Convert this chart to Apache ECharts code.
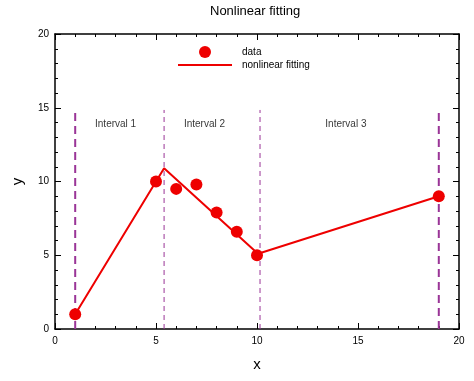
<!DOCTYPE html>
<html><head><meta charset="utf-8">
<script src="https://cdn.jsdelivr.net/npm/echarts@6/dist/echarts.min.js"></script>
<style>html,body{margin:0;padding:0;background:#fff}#c{width:474px;height:381px}</style>
</head><body><div id="c"></div>
<script>
const dataX = [1, 5, 6, 7, 8, 9, 10, 19];
const dataY = [1, 10, 9.5, 9.8, 7.9, 6.6, 5, 9];
const fitX = [1, 5.4, 10.05, 19];
const fitY = [1, 10.9, 5.1, 9];
const boundX = [1, 5.4, 10.15, 19];
const boundTop = 14.85;
const intervalNames = ['Interval 1', 'Interval 2', 'Interval 3'];
const intervalX = [3.0, 7.4, 14.4];
const intervalY = 13.9;
const xTicks = [0, 5, 10, 15, 20];
const yTicks = [0, 5, 10, 15, 20];

const FONT = 'Liberation Sans, Arial, Helvetica, sans-serif';
const RED = '#ee0000';
const PURPLE = '#9a3597';

const series = [];
series.push({
  name: 'nonlinear fitting', type: 'line', symbol: 'none', z: 3,
  data: fitX.map((x, i) => [x, fitY[i]]),
  lineStyle: { color: RED, width: 2 }, itemStyle: { color: RED }
});
series.push({
  name: 'data', type: 'scatter', symbol: 'circle', symbolSize: 12, z: 4,
  data: dataX.map((x, i) => [x, dataY[i]]),
  itemStyle: { color: RED, opacity: 1 }
});
boundX.forEach((x, i) => {
  const thick = (i === 0 || i === boundX.length - 1);
  series.push({
    type: 'line', symbol: 'none', z: 2, silent: true,
    data: [[x, 0], [x, boundTop]],
    lineStyle: { color: PURPLE, width: thick ? 2 : 1, type: thick ? [8, 5] : [5, 4] }
  });
});
series.push({
  type: 'scatter', symbolSize: 0, silent: true,
  data: intervalX.map((x, i) => ({ value: [x, intervalY], name: intervalNames[i] })),
  label: { show: true, position: 'inside', formatter: p => p.name, color: '#000', fontSize: 10, fontFamily: FONT }
});

function tickAxis(extra) {
  return Object.assign({
    type: 'value', min: 0, max: 20, interval: 5,
    axisLine: { show: true, onZero: false, lineStyle: { color: '#000', width: 1.5 } },
    axisTick: { show: true, inside: true, length: 6, lineStyle: { color: '#000' } },
    minorTick: { show: true, splitNumber: 5, length: 3, lineStyle: { color: '#000' } },
    splitLine: { show: false }
  }, extra);
}

const chart = echarts.init(document.getElementById('c'));
chart.setOption({
  animation: false,
  backgroundColor: '#fff',
  title: { text: 'Nonlinear fitting', left: 205, top: 0,
    textStyle: { fontSize: 13, fontWeight: 'normal', color: '#000', fontFamily: FONT } },
  legend: {
    data: [
      { name: 'data', icon: 'circle' },
      { name: 'nonlinear fitting', icon: 'path://M0,0 L54,0 L54,2 L0,2 Z' }
    ],
    orient: 'vertical', left: 178, top: 46, padding: 0,
    itemWidth: 54, itemHeight: 12, itemGap: 2, symbolKeepAspect: true,
    textStyle: { fontSize: 10, color: '#000', fontFamily: FONT, padding: [0, 0, 0, 5] }
  },
  grid: { left: 55, right: 15, top: 34, bottom: 52 },
  xAxis: [
    tickAxis({ min: xTicks[0], max: xTicks[xTicks.length - 1],
      name: 'x', nameLocation: 'middle', nameGap: 28,
      nameTextStyle: { fontSize: 15, color: '#000', fontFamily: FONT },
      axisLabel: { fontSize: 10, color: '#000', fontFamily: FONT, margin: 7 } }),
    tickAxis({ position: 'top', axisLabel: { show: false } })
  ],
  yAxis: [
    tickAxis({ min: yTicks[0], max: yTicks[yTicks.length - 1],
      name: 'y', nameLocation: 'middle', nameGap: 30,
      nameTextStyle: { fontSize: 15, color: '#000', fontFamily: FONT },
      axisLabel: { fontSize: 10, color: '#000', fontFamily: FONT, margin: 6 } }),
    tickAxis({ position: 'right', axisLabel: { show: false } })
  ],
  series: series
});
</script></body></html>
